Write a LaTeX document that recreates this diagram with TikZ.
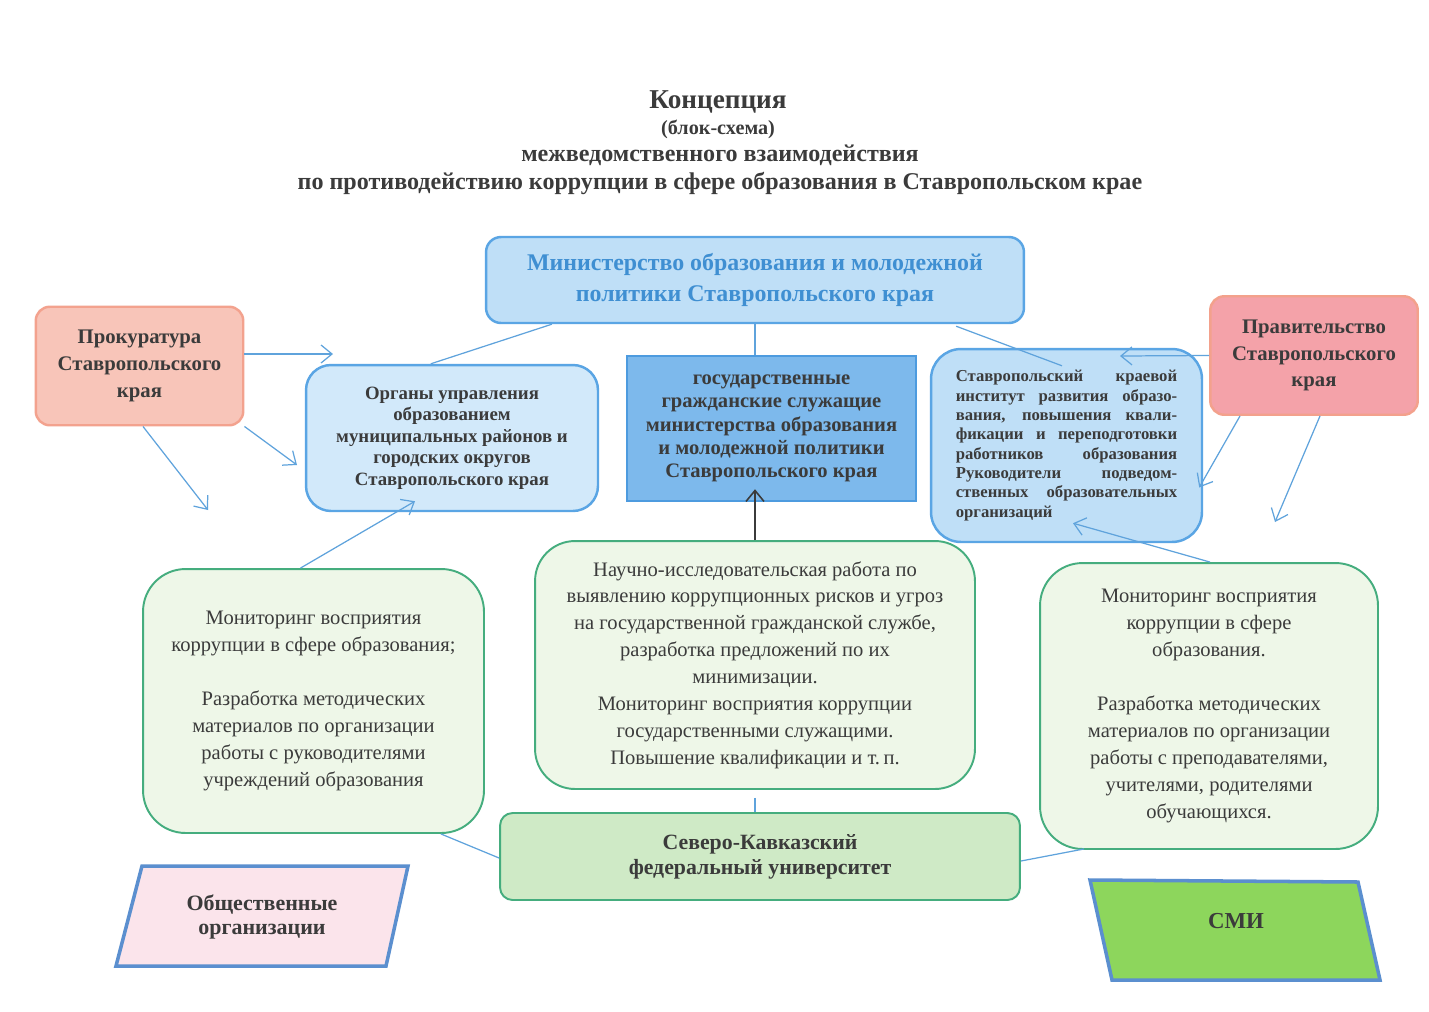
\documentclass[tikz,border=0pt]{standalone}
\usepackage{fontspec}
\setmainfont{Liberation Serif}
\usetikzlibrary{arrows.meta}

\definecolor{txtgray}{HTML}{3B3B3B}
\definecolor{linkblue}{HTML}{5FA3DC}
\definecolor{boxblue}{HTML}{5AA5E4}
\definecolor{lightblue}{HTML}{D2E9FA}
\definecolor{miniblue}{HTML}{BFDFF7}
\definecolor{minitext}{HTML}{3F8FD2}
\definecolor{gosblue}{HTML}{7DB9EC}
\definecolor{gosborder}{HTML}{4D9BDF}
\definecolor{prokfill}{HTML}{F8C5B9}
\definecolor{prokborder}{HTML}{F3A28E}
\definecolor{govfill}{HTML}{F4A2A9}
\definecolor{govborder}{HTML}{F3A18C}
\definecolor{boxgreen}{HTML}{45AD7E}
\definecolor{lightgreen}{HTML}{EEF7E8}
\definecolor{skfugreen}{HTML}{CFEAC6}
\definecolor{paraborder}{HTML}{5B8FCF}
\definecolor{obshfill}{HTML}{FBE4EB}
\definecolor{smigreen}{HTML}{8DD65C}

\begin{document}
\begin{tikzpicture}[x=0.02cm, y=-0.02cm,
        >={Straight Barb[length=2.2mm,width=3.6mm]},
        every node/.style={text=txtgray, inner sep=0pt},
        link/.style={draw=linkblue, line width=0.7pt},
        bluebox/.style={draw=boxblue, line width=1.4pt, fill=lightblue, align=center,
            font=\bfseries\fontsize{10.7}{12.2}\selectfont},
        redbox/.style={line width=1.4pt, rounded corners=0.28cm, align=center,
            minimum width=4.15cm, minimum height=2.37cm,
            font=\bfseries\fontsize{11.8}{15.3}\selectfont},
        greenbox/.style={draw=boxgreen, line width=1.1pt, fill=lightgreen, align=center,
            rounded corners=0.85cm, font=\fontsize{11.7}{15.3}\selectfont}]
    \useasboundingbox (0,0) rectangle (1429,1011);
    \fill[white] (0,0) rectangle (1429,1011);

    % title
    \node[font=\bfseries\fontsize{15.5}{18}\selectfont] (tHead) at (718,102) {Концепция};
    \node[font=\bfseries\fontsize{11.5}{13}\selectfont] (tSub) at (718,129) {(блок-схема)};
    \node[font=\bfseries\fontsize{13.7}{16}\selectfont] (tLineA) at (720,155) {межведомственного взаимодействия};
    \node[font=\bfseries\fontsize{13.7}{16}\selectfont] (tLineB) at (720,183) {по противодействию коррупции в сфере образования в Ставропольском крае};

    % upper row
    \node[bluebox, fill=miniblue, text=minitext, rounded corners=0.3cm, minimum width=10.76cm, minimum height=1.72cm,
        font=\bfseries\fontsize{13.6}{18}\selectfont] (mini) at (755,280)
        {Министерство образования и молодежной\\политики Ставропольского края};
    \node[redbox, draw=prokborder, fill=prokfill] (prok) at (139.5,366) {Прокуратура\\Ставропольского\\края};
    \node[redbox, draw=govborder, fill=govfill] (gov) at (1314,355.5) {Правительство\\Ставропольского\\края};

    \node[bluebox, rounded corners=0.5cm, minimum width=5.84cm, minimum height=2.92cm] (org) at (452,438)
        {Органы управления\\образованием\\муниципальных районов и\\городских округов\\Ставропольского края};
    \node[bluebox, draw=gosborder, fill=gosblue, minimum width=5.78cm, minimum height=2.9cm,
        font=\bfseries\fontsize{11.7}{13.3}\selectfont] (gos) at (771.5,428.5)
        {государственные\\гражданские служащие\\министерства образования\\и молодежной политики\\Ставропольского края};
    \node[bluebox, fill=miniblue, rounded corners=0.6cm, minimum width=5.42cm, minimum height=3.86cm, align=left,
        font=\bfseries\fontsize{9.5}{11}\selectfont] (inst) at (1066.5,445.5)
        {\makebox[126pt][s]{Ставропольский краевой}\\
         \makebox[126pt][s]{институт развития образо-}\\
         \makebox[126pt][s]{вания, повышения квали-}\\
         \makebox[126pt][s]{фикации и переподготовки}\\
         \makebox[126pt][s]{работников образования}\\
         \makebox[126pt][s]{Руководители подведом-}\\
         \makebox[126pt][s]{ственных образовательных}\\
         \makebox[126pt][l]{организаций}};

    % green row
    \node[greenbox, minimum width=6.82cm, minimum height=5.28cm] (monL) at (313.5,701)
        {Мониторинг восприятия\\коррупции в сфере образования;\\[15.3pt]
         Разработка методических\\материалов по организации\\работы с руководителями\\учреждений образования};
    \node[greenbox, rounded corners=0.8cm, minimum width=8.8cm, minimum height=4.96cm] (nir) at (755,665)
        {Научно-исследовательская работа по\\выявлению коррупционных рисков и угроз\\на государственной гражданской службе,\\
         разработка предложений по их\\минимизации.\\Мониторинг восприятия коррупции\\
         государственными служащими.\\Повышение квалификации и т.\,п.};
    \node[greenbox, minimum width=6.76cm, minimum height=5.72cm] (monR) at (1209,706)
        {Мониторинг восприятия\\коррупции в сфере\\образования.\\[15.3pt]
         Разработка методических\\материалов по организации\\работы с преподавателями,\\учителями, родителями\\обучающихся.};
    \node[greenbox, fill=skfugreen, rounded corners=0.25cm, minimum width=10.4cm, minimum height=1.74cm,
        font=\bfseries\fontsize{12.4}{14.2}\selectfont] (skfu) at (760,856.5)
        {Северо-Кавказский\\федеральный университет};

    % parallelograms
    \filldraw[draw=paraborder, fill=obshfill, line width=2pt] (142,866) -- (408,866) -- (386,966) -- (116,966) -- cycle;
    \node[align=center, font=\bfseries\fontsize{12.5}{14}\selectfont] (obsh) at (262,917) {Общественные\\организации};
    \filldraw[draw=paraborder, fill=smigreen, line width=2pt] (1090,880) -- (1358,882) -- (1380,980) -- (1112,980) -- cycle;
    \node[font=\bfseries\fontsize{13}{15}\selectfont] (smi) at (1236,921) {СМИ};

    % free arrow ends
    \coordinate (pa) at (333,354);
    \coordinate (pb) at (297,465);
    \coordinate (pc) at (208,510);
    \coordinate (pd) at (1120,356);
    \coordinate (pe) at (1275,522);

    \draw[link, ->] ([shift={(0,-12)}]prok.east) -- (pa);
    \draw[link, ->] (prok.south east) -- (pb);
    \draw[link, ->] ([shift={(3.5,0)}]prok.south) -- (pc);
    \draw[link, ->] (gov.west) -- (pd);
    \draw[link, ->] ([shift={(-74,0)}]gov.south) -- ([shift={(-4,42)}]inst.east);
    \draw[link, ->] ([shift={(6,0)}]gov.south) -- (pe);
    \draw[link, ->] ([shift={(-13,0)}]monL.north) -- ([shift={(-37,-11)}]org.south);
    \draw[link, ->] ([shift={(1,0)}]monR.north) -- ([shift={(6.5,-20)}]inst.south);
    \draw[->, draw=txtgray, line width=0.9pt] (nir.north) -- ([shift={(-16.5,-13)}]gos.south);

    \draw[link] ([shift={(67,0)}]mini.south west) -- ([shift={(126,0)}]org.north west);
    \draw[link] (mini.south) -- (mini.south |- gos.north);
    \draw[link] ([shift={(-69,2)}]mini.south east) -- ([shift={(-4.5,18)}]inst.north);
    \draw[link] ([shift={(0,8)}]nir.south) -- (nir.south |- skfu.north);
    \draw[link] ([shift={(-44,0)}]monL.south east) -- ([shift={(0,1.5)}]skfu.west);
    \draw[link] ([shift={(0,4.5)}]skfu.east) -- ([shift={(45,-1)}]monR.south west);
\end{tikzpicture}
\end{document}
